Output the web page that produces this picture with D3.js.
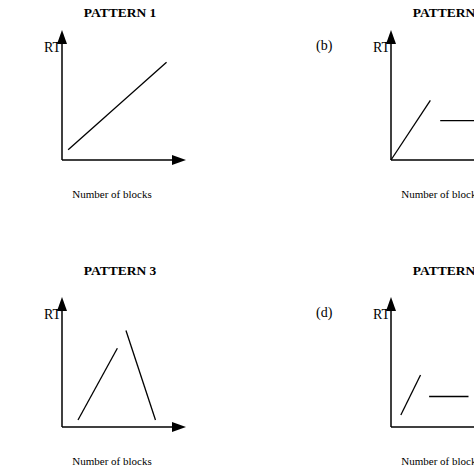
<!DOCTYPE html><html><head><script src="https://cdn.jsdelivr.net/npm/d3@7"></script>
<style>body{margin:0;background:#fff}text{font-family:"Liberation Serif",serif}</style></head><body>
<script>
const titles=["PATTERN 1","PATTERN 2","PATTERN 3","PATTERN 4"];
const tags=["","(b)","","(d)"];
const xLabel="Number of blocks", yLabel="RT";
const seg1=[[[0.5,0.8],[8.5,7.7]]];
const seg2=[[[0,0],[3.2,4.7]],[[4.0,3.1],[7.5,3.1]]];
const seg3=[[[1.3,0.55],[4.5,6.2]],[[5.2,7.6],[7.6,0.55]]];
const seg4=[[[0.8,0.95],[2.4,4.1]],[[3.1,2.4],[6.3,2.4]]];
const segs=[seg1,seg2,seg3,seg4];
const origins=[[62,160],[391,160],[62,427],[391,427]];
const titleY=[17,17,275,275];
const svg=d3.select("body").append("svg").attr("width",474).attr("height",474);
segs.forEach((s,i)=>{
 const [ox,oy]=origins[i];
 const x=d3.scaleLinear().domain([0,10]).range([ox,ox+123]);
 const y=d3.scaleLinear().domain([0,10]).range([oy,oy-127]);
 const g=svg.append("g");
 g.append("line").attr("x1",ox).attr("y1",oy).attr("x2",ox+112).attr("y2",oy).attr("stroke","#000").attr("stroke-width",1.5);
 g.append("line").attr("x1",ox).attr("y1",oy).attr("x2",ox).attr("y2",oy-117).attr("stroke","#000").attr("stroke-width",1.5);
 g.append("path").attr("d",`M${ox-5},${oy-116}L${ox},${oy-130}L${ox+5},${oy-116}Z`);
 g.append("path").attr("d",`M${ox+110},${oy-5}L${ox+124},${oy}L${ox+110},${oy+5}Z`);
 const line=d3.line().x(d=>x(d[0])).y(d=>y(d[1]));
 s.forEach(p=>g.append("path").attr("d",line(p)).attr("stroke","#000").attr("stroke-width",1.3).attr("fill","none"));
 g.append("text").attr("x",ox+58).attr("y",titleY[i]).attr("text-anchor","middle").attr("font-weight","bold").attr("font-size",13.5).text(titles[i]);
 g.append("text").attr("x",ox-1).attr("y",oy-108).attr("text-anchor","end").attr("font-size",14).text(yLabel);
 g.append("text").attr("x",ox-75).attr("y",oy-110).attr("font-size",14).text(tags[i]);
 g.append("text").attr("x",ox+50).attr("y",oy+38).attr("text-anchor","middle").attr("font-size",11).text(xLabel);
});
</script></body></html>
